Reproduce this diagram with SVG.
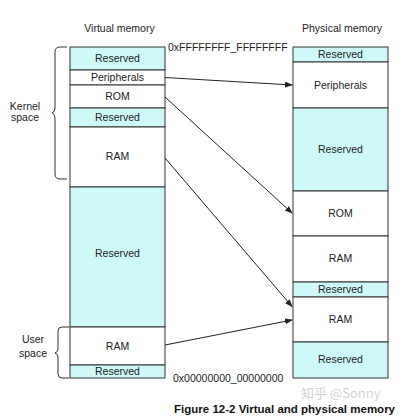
<svg xmlns="http://www.w3.org/2000/svg" width="402" height="419" viewBox="0 0 402 419">
<style>
text{font-family:"Liberation Sans",Arial,sans-serif;font-size:10.5px;fill:#222;}
.c{text-anchor:middle;}
.res{fill:#cdf9f9;stroke:#333;stroke-width:1;}
.blk{fill:#fff;stroke:#333;stroke-width:1;}
.con{stroke:#222;stroke-width:1;fill:none;marker-end:url(#ah);}
.br{stroke:#333;stroke-width:1;fill:none;}
</style>
<defs>
<marker id="ah" markerWidth="8" markerHeight="6" refX="7" refY="3" orient="auto" markerUnits="userSpaceOnUse">
<path d="M0,0 L8,3 L0,6 z" fill="#222"/>
</marker>
</defs>
<rect width="402" height="419" fill="#fff"/>
<text class="c" x="119.5" y="32">Virtual memory</text>
<text class="c" x="342" y="32">Physical memory</text>
<text x="168" y="51">0xFFFFFFFF_FFFFFFFF</text>
<text x="173" y="382">0x00000000_00000000</text>

<g id="virtual">
<g id="v-res1"><rect class="res" x="70" y="47" width="95" height="23"/><text class="c" x="117.5" y="62">Reserved</text></g>
<g id="v-periph"><rect class="blk" x="70" y="70" width="95" height="15"/><text class="c" x="117.5" y="81">Peripherals</text></g>
<g id="v-rom"><rect class="blk" x="70" y="85" width="95" height="23"/><text class="c" x="117.5" y="100">ROM</text></g>
<g id="v-res2"><rect class="res" x="70" y="108" width="95" height="19"/><text class="c" x="117.5" y="121">Reserved</text></g>
<g id="v-ram1"><rect class="blk" x="70" y="127" width="95" height="60"/><text class="c" x="117.5" y="160">RAM</text></g>
<g id="v-res3"><rect class="res" x="70" y="187" width="95" height="140"/><text class="c" x="117.5" y="257">Reserved</text></g>
<g id="v-ram2"><rect class="blk" x="70" y="327" width="95" height="38"/><text class="c" x="117.5" y="349.5">RAM</text></g>
<g id="v-res4"><rect class="res" x="70" y="365" width="95" height="13"/><text class="c" x="117.5" y="375">Reserved</text></g>
</g>

<g id="physical">
<g id="p-res1"><rect class="res" x="293" y="47" width="95" height="15"/><text class="c" x="340.5" y="58">Reserved</text></g>
<g id="p-periph"><rect class="blk" x="293" y="62" width="95" height="46"/><text class="c" x="340.5" y="89">Peripherals</text></g>
<g id="p-res2"><rect class="res" x="293" y="108" width="95" height="83"/><text class="c" x="340.5" y="153">Reserved</text></g>
<g id="p-rom"><rect class="blk" x="293" y="191" width="95" height="45"/><text class="c" x="340.5" y="217">ROM</text></g>
<g id="p-ram1"><rect class="blk" x="293" y="236" width="95" height="46"/><text class="c" x="340.5" y="262">RAM</text></g>
<g id="p-res3"><rect class="res" x="293" y="282" width="95" height="15"/><text class="c" x="340.5" y="293">Reserved</text></g>
<g id="p-ram2"><rect class="blk" x="293" y="297" width="95" height="45"/><text class="c" x="340.5" y="323">RAM</text></g>
<g id="p-res4"><rect class="res" x="293" y="342" width="95" height="36"/><text class="c" x="340.5" y="363">Reserved</text></g>
</g>

<g id="kernel-space">
<path class="br" d="M67,47 H60 Q55,47 55,52 V108 Q55,112 52,113 Q55,114 55,118 V174 Q55,179 60,179 H67"/>
<text class="c" x="25" y="110">Kernel</text>
<text class="c" x="25" y="121">space</text>
</g>
<g id="user-space">
<path class="br" d="M69,327 H62 Q58,327 58,331 V349 Q58,352 55,353 Q58,354 58,357 V374 Q58,378 62,378 H69"/>
<text class="c" x="33" y="343">User</text>
<text class="c" x="33" y="356.5">space</text>
</g>

<g id="connectors">
<line class="con" x1="165" y1="77.5" x2="292" y2="85"/>
<line class="con" x1="165" y1="97" x2="292" y2="213"/>
<line class="con" x1="165" y1="158" x2="292" y2="306.5"/>
<line class="con" x1="165" y1="345" x2="292" y2="320"/>
</g>

<text x="301" y="398" style="font-family:'Noto Sans CJK SC','Liberation Sans',sans-serif;font-size:13px;fill:#d2d2d2;">知乎 @Sonny</text>
<text x="395" y="413" text-anchor="end" style="font-weight:bold;font-size:11.5px;fill:#111;">Figure 12-2 Virtual and physical memory</text>
</svg>
